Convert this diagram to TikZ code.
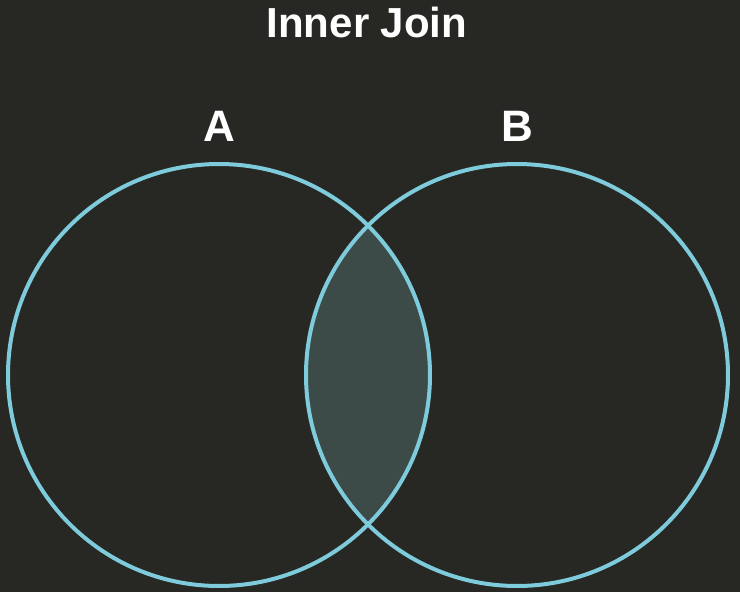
\documentclass[tikz,border=0pt]{standalone}
\usepackage{fontspec}
\setmainfont{Liberation Sans}
\definecolor{bg}{HTML}{272824}
\definecolor{ring}{HTML}{7ECBDB}
\definecolor{inter}{HTML}{3C4A48}
\begin{document}
\begin{tikzpicture}[x=1pt,y=-1pt,
  ring/.style={draw=ring,line width=4pt},
  lab/.style={text=white,font=\bfseries\fontsize{44}{48}\selectfont,inner sep=0pt}]
\fill[bg] (0,0) rectangle (740,592);
\useasboundingbox (0,0) rectangle (740,592);
\coordinate (ca) at (219,375);
\coordinate (cb) at (517,375);
\begin{scope}
  \clip (ca) circle (211);
  \fill[inter] (cb) circle (211);
\end{scope}
\draw[ring] (ca) circle (211);
\draw[ring] (cb) circle (211);
\node[lab,font=\bfseries\fontsize{42}{46}\selectfont] (title) at (367,22) {Inner Join};
\node[lab] (a) at (219,126) {A};
\node[lab] (b) at (517,126) {B};
\end{tikzpicture}
\end{document}
